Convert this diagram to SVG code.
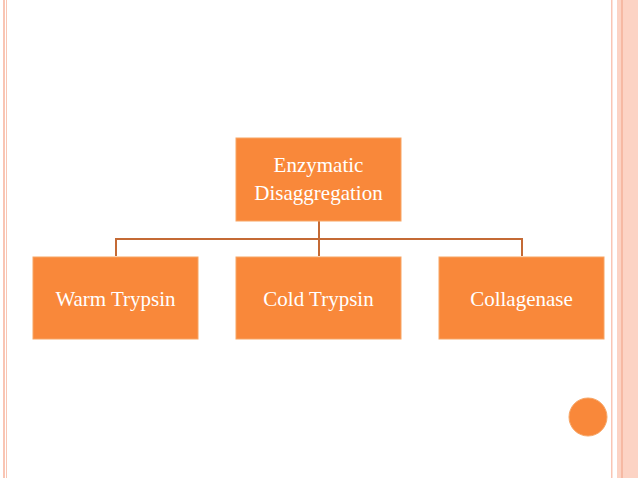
<svg xmlns="http://www.w3.org/2000/svg" width="638" height="478" viewBox="0 0 638 478">
<style>
.box{fill:#F9883A;stroke:#F7A565;stroke-width:1}
.t{font-family:"Liberation Serif",serif;font-size:21px;fill:#fff;text-anchor:middle}
.c{stroke:#C46A35;stroke-width:2;fill:none}
</style>
<rect width="638" height="478" fill="#fff"/>
<g id="borders">
<rect x="3" y="0" width="2" height="478" fill="#F9C5B4"/>
<rect x="6" y="0" width="1" height="478" fill="#F9C5B4"/>
<rect x="611" y="0" width="1.5" height="478" fill="#F9C5B4"/>
<rect x="617" y="0" width="21" height="478" fill="#FCD3C4"/>
<rect x="621" y="0" width="2" height="478" fill="#F6B9A3"/>
</g>
<g id="connectors">
<path class="c" d="M319 221V256M116 256V239H522V256"/>
</g>
<g id="n0"><rect class="box" x="236" y="138" width="165" height="83"/><text class="t" x="318.5" y="172">Enzymatic</text><text class="t" x="318.5" y="200">Disaggregation</text></g>
<g id="n1"><rect class="box" x="33" y="257" width="165" height="82"/><text class="t" x="115.5" y="306">Warm Trypsin</text></g>
<g id="n2"><rect class="box" x="236" y="257" width="165" height="82"/><text class="t" x="318.5" y="306">Cold Trypsin</text></g>
<g id="n3"><rect class="box" x="439" y="257" width="165" height="82"/><text class="t" x="521.5" y="306">Collagenase</text></g>
<circle cx="588" cy="417" r="19" fill="#F9883A" stroke="#F7A565"/>
</svg>
